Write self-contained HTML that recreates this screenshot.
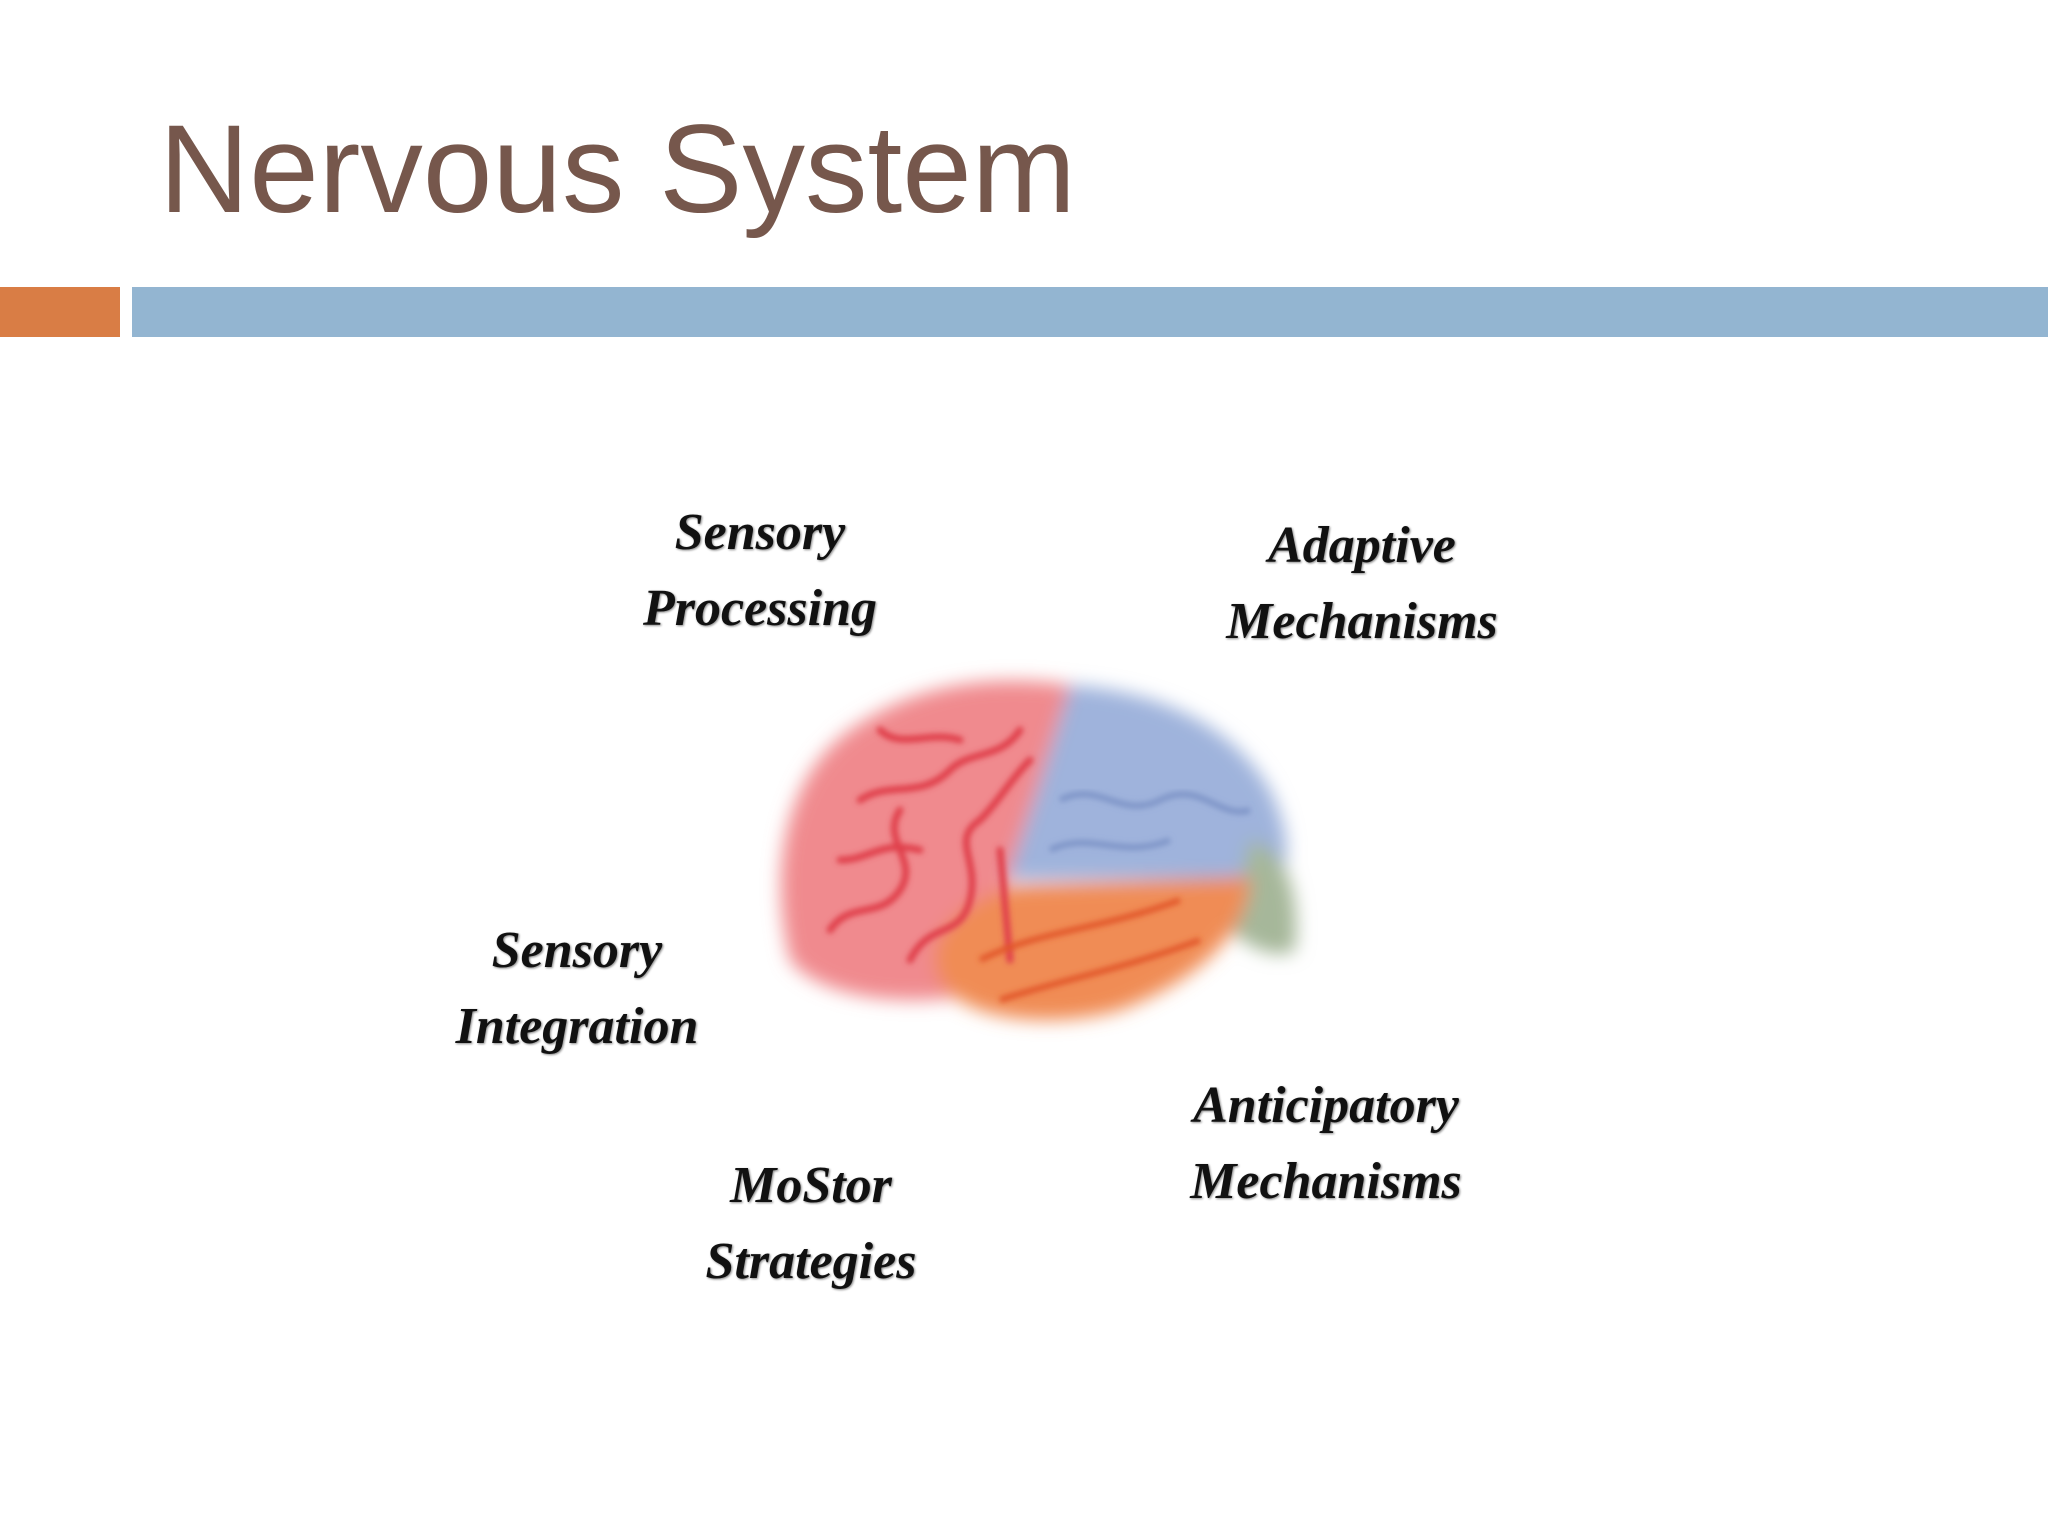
<!DOCTYPE html>
<html><head><meta charset="utf-8"><style>
html,body{margin:0;padding:0;background:#fff;}
body{width:2048px;height:1536px;position:relative;overflow:hidden;}
.t{position:absolute;left:159px;top:107px;font-family:"Liberation Sans",sans-serif;font-size:125px;color:#76574c;line-height:1;}
.l{position:absolute;font-family:"Liberation Serif",serif;font-style:italic;font-weight:bold;font-size:52px;color:#111;text-align:center;line-height:76px;width:400px;text-shadow:1px 1px 2px #888;}
</style></head><body>
<div class="t">Nervous System</div>
<div style="position:absolute;left:0;top:287px;width:120px;height:50px;background:#d97d45"></div>
<div style="position:absolute;left:132px;top:287px;width:1916px;height:50px;background:#93b5d1"></div>
<svg width="2048" height="1536" style="position:absolute;left:0;top:0">
<defs>
<filter id="b" x="-20%" y="-20%" width="140%" height="140%"><feGaussianBlur stdDeviation="9"/></filter>
<filter id="b2"><feGaussianBlur stdDeviation="3"/></filter>
</defs>
<g filter="url(#b)">
<path d="M790,960 C770,880 780,780 850,730 C920,680 1000,675 1070,685 L1040,780 L1010,870 L990,990 C920,1010 820,1000 790,960 Z" fill="#f08a8e"/>
<path d="M1070,685 C1150,690 1230,720 1270,790 C1290,830 1290,860 1280,878 L1010,880 L1010,870 L1040,780 Z" fill="#9fb3dc"/>
<path d="M1250,840 C1290,850 1300,900 1295,950 C1280,960 1250,950 1230,930 Z" fill="#a6b79a"/>
<path d="M940,980 C920,940 960,900 1020,885 L1250,877 C1250,930 1200,980 1120,1010 C1050,1030 960,1020 940,980 Z" fill="#f08c55"/>
</g>
<g filter="url(#b2)" fill="none" stroke="#e0404c" stroke-width="7" stroke-linecap="round">
<path d="M830,930 C850,900 880,920 900,890 C920,860 880,840 900,810"/>
<path d="M860,800 C890,780 920,800 950,770 C970,750 1000,760 1020,730"/>
<path d="M910,960 C930,920 960,940 970,900 C980,860 950,840 980,820 C1000,800 1010,780 1030,760"/>
<path d="M840,860 C870,860 880,840 920,850"/>
<path d="M880,730 C900,750 930,730 960,740"/>
<path d="M1000,850 L1010,960"/>
</g>
<g filter="url(#b2)" fill="none" stroke="#7f95c8" stroke-width="6">
<path d="M1060,800 C1100,780 1120,820 1160,800 C1200,780 1220,820 1250,810"/>
<path d="M1050,850 C1090,830 1120,860 1170,840"/>
</g>
<g filter="url(#b2)" fill="none" stroke="#e2572a" stroke-width="6">
<path d="M980,960 C1040,930 1100,930 1180,900"/>
<path d="M1000,1000 C1060,980 1120,970 1200,940"/>
</g>
</svg>
<div class="l" style="left:560px;top:495px">Sensory<br>Processing</div>
<div class="l" style="left:1162px;top:508px">Adaptive<br>Mechanisms</div>
<div class="l" style="left:377px;top:913px">Sensory<br>Integration</div>
<div class="l" style="left:611px;top:1148px">MoStor<br>Strategies</div>
<div class="l" style="left:1126px;top:1068px">Anticipatory<br>Mechanisms</div>
</body></html>
